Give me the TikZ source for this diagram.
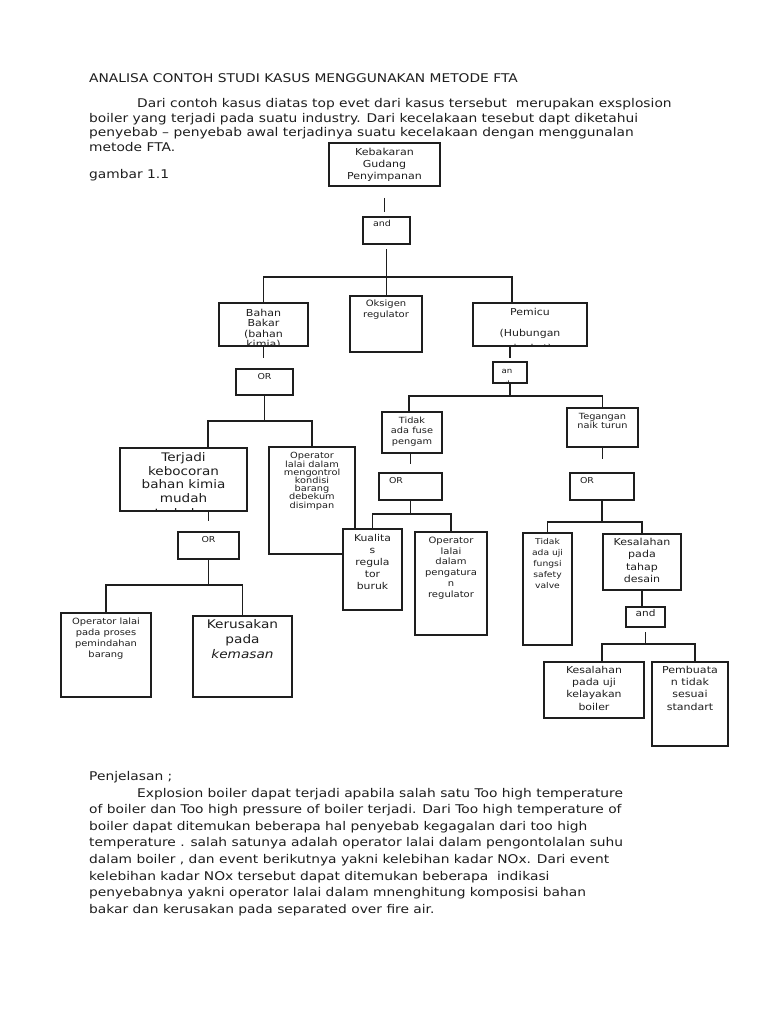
\documentclass[tikz,border=0pt]{standalone}
\usepackage{fontspec}
\setmainfont{DejaVu Sans}[FakeStretch=1.15]
\definecolor{ink}{HTML}{1E1E1E}
\newcommand{\huruf}[2]{\fontsize{#1pt}{#2pt}\selectfont\lineskiplimit=-5pt\relax}
\tikzset{
  wire/.style={draw=ink, line width=1.1pt},
  event/.style={draw=ink, fill=white, line width=1.1pt, inner sep=0pt, outer sep=0pt, anchor=north west},
  isi/.style={text=ink, align=center, inner sep=0pt, minimum width=0pt, minimum height=0pt, anchor=north},
  para/.style={text=ink, inner sep=0pt, anchor=base west, font=\huruf{12}{14.5}}
}
\begin{document}
\begin{tikzpicture}[x=1pt, y=-1pt]
  \fill[white] (0,0) rectangle (768,1024);
  \useasboundingbox (0,0) rectangle (768,1024);

  % teks pembuka
  \node[para] (judul) at (89,82.5) {ANALISA CONTOH STUDI KASUS MENGGUNAKAN METODE FTA};
  \node[para] (p1) at (137,108) {Dari contoh kasus diatas top evet dari kasus tersebut\ \ merupakan exsplosion};
  \node[para] (p2) at (89,122.5) {boiler yang terjadi pada suatu industry. Dari kecelakaan tesebut dapt diketahui};
  \node[para] (p3) at (89,137) {penyebab – penyebab awal terjadinya suatu kecelakaan dengan menggunalan};
  \node[para] (p4) at (89,151.5) {metode FTA.};
  \node[para] (gambar) at (89,179) {gambar 1.1};

  % pohon kegagalan
  \node[event, minimum width=111pt, minimum height=43pt,
    path picture={\node[isi, font=\huruf{9.6}{12}] at ([yshift=-5pt]path picture bounding box.north) {Kebakaran\\Gudang\\Penyimpanan};}]
    (kebakaran) at (329,143) {};
  \node[event, minimum width=47pt, minimum height=27pt,
    path picture={\node[isi, font=\huruf{8.3}{10}] at ([xshift=-4.5pt, yshift=-3pt]path picture bounding box.north) {and};}]
    (and1) at (363,217) {};
  \node[event, minimum width=89pt, minimum height=43pt,
    path picture={\node[isi, font=\huruf{9.6}{10.5}] at ([yshift=-6pt]path picture bounding box.north) {Bahan\\Bakar\\(bahan\\kimia)};}]
    (bahan) at (219,303) {};
  \node[event, minimum width=72pt, minimum height=56pt,
    path picture={\node[isi, font=\huruf{8.7}{11}] at ([yshift=-3.5pt]path picture bounding box.north) {Oksigen\\regulator};}]
    (oksigen) at (350,296) {};
  \node[event, minimum width=114pt, minimum height=43pt,
    path picture={\node[isi, font=\huruf{9.5}{10.5}] at ([yshift=-5pt]path picture bounding box.north) {Pemicu\\[10.5pt](Hubungan\\[4.5pt]singkat)};}]
    (pemicu) at (473,303) {};

  % cabang kiri
  \node[event, minimum width=57pt, minimum height=26pt,
    path picture={\node[isi, font=\huruf{8.2}{10}] at ([yshift=-4pt]path picture bounding box.north) {OR};}]
    (or1) at (236,369) {};
  \node[event, minimum width=127pt, minimum height=63pt,
    path picture={\node[isi, font=\huruf{11.8}{13.4}] at ([yshift=-5pt]path picture bounding box.north) {Terjadi\\kebocoran\\bahan kimia\\mudah\\[2pt]terbakar};}]
    (terjadi) at (120,448) {};
  \node[event, minimum width=86pt, minimum height=107pt,
    path picture={\node[isi, font=\huruf{8.5}{8.2}] at ([yshift=-5.5pt]path picture bounding box.north) {Operator\\lalai dalam\\mengontrol\\kondisi\\barang\\debekum\\disimpan};}]
    (operator1) at (269,447) {};
  \node[event, minimum width=61pt, minimum height=27pt,
    path picture={\node[isi, font=\huruf{8.2}{10}] at ([yshift=-4pt]path picture bounding box.north) {OR};}]
    (orbawah) at (178,532) {};
  \node[event, minimum width=90pt, minimum height=84pt,
    path picture={\node[isi, font=\huruf{8.6}{11}] at ([yshift=-4.6pt]path picture bounding box.north) {Operator lalai\\pada proses\\pemindahan\\barang};}]
    (operator3) at (61,613) {};
  \node[event, minimum width=99pt, minimum height=81pt,
    path picture={\node[isi, font=\huruf{11.9}{14.8}] at ([yshift=-3.5pt]path picture bounding box.north) {Kerusakan\\pada\\\textit{kemasan}};}]
    (kerusakan) at (193,616) {};

  % cabang kanan
  \node[event, minimum width=34pt, minimum height=21pt,
    path picture={\node[isi, font=\huruf{7.5}{10.6}] at ([xshift=-3pt, yshift=-7pt]path picture bounding box.north) {an\\[3pt]d};}]
    (an) at (493,362) {};
  \node[event, minimum width=60pt, minimum height=41pt,
    path picture={\node[isi, font=\huruf{8.5}{10.8}] at ([yshift=-4.6pt]path picture bounding box.north) {Tidak\\ada fuse\\pengam};}]
    (tidakfuse) at (382,412) {};
  \node[event, minimum width=71pt, minimum height=39pt,
    path picture={\node[isi, font=\huruf{8.5}{9.5}] at ([yshift=-5pt]path picture bounding box.north) {Tegangan\\naik turun};}]
    (tegangan) at (567,408) {};
  \node[event, minimum width=63pt, minimum height=27pt,
    path picture={\node[isi, anchor=north west, font=\huruf{8.2}{10}] at ([xshift=10pt, yshift=-4pt]path picture bounding box.north west) {OR};}]
    (or2) at (379,473) {};
  \node[event, minimum width=64pt, minimum height=27pt,
    path picture={\node[isi, anchor=north west, font=\huruf{8.2}{10}] at ([xshift=10pt, yshift=-4pt]path picture bounding box.north west) {OR};}]
    (or3) at (570,473) {};
  \node[event, minimum width=59pt, minimum height=81pt,
    path picture={\node[isi, font=\huruf{9.4}{12}] at ([yshift=-5.8pt]path picture bounding box.north) {Kualita\\s\\regula\\tor\\buruk};}]
    (kualitas) at (343,529) {};
  \node[event, minimum width=72pt, minimum height=103pt,
    path picture={\node[isi, font=\huruf{8.7}{10.8}] at ([yshift=-4.8pt]path picture bounding box.north) {Operator\\lalai\\dalam\\pengatura\\n\\regulator};}]
    (operator2) at (415,532) {};
  \node[event, minimum width=49pt, minimum height=112pt,
    path picture={\node[isi, font=\huruf{8}{11}] at ([yshift=-5pt]path picture bounding box.north) {Tidak\\ada uji\\fungsi\\safety\\valve};}]
    (tidakuji) at (523,533) {};
  \node[event, minimum width=78pt, minimum height=56pt,
    path picture={\node[isi, font=\huruf{9.6}{12.2}] at ([yshift=-4.5pt]path picture bounding box.north) {Kesalahan\\pada\\tahap\\desain};}]
    (kesdesain) at (603,534) {};
  \node[event, minimum width=39pt, minimum height=20pt,
    path picture={\node[isi, font=\huruf{9.2}{11}] at ([yshift=-2.5pt]path picture bounding box.north) {and};}]
    (and2) at (626,607) {};
  \node[event, minimum width=100pt, minimum height=56pt,
    path picture={\node[isi, font=\huruf{9.5}{12.2}] at ([yshift=-4.2pt]path picture bounding box.north) {Kesalahan\\pada uji\\kelayakan\\boiler};}]
    (kesuji) at (544,662) {};
  \node[event, minimum width=76pt, minimum height=84pt,
    path picture={\node[isi, font=\huruf{9.6}{12.2}] at ([yshift=-4.2pt]path picture bounding box.north) {Pembuata\\n tidak\\sesuai\\standart};}]
    (pembuatan) at (652,662) {};

  % titik cabang
  \coordinate (j1) at (385,277);
  \coordinate (j2) at (263,421);
  \coordinate (j3) at (208,585);
  \coordinate (j4) at (508,396);
  \coordinate (j5) at (409,514);
  \coordinate (j6) at (602,522);
  \coordinate (j7) at (644,644);

  % garis penghubung
  \draw[wire, shorten <=12pt, shorten >=5pt] (kebakaran.south) -- (kebakaran.south |- and1.north);
  \draw[wire, shorten <=5pt] (and1.south) -- (and1.south |- oksigen.north);
  \draw[wire] (bahan.north) |- (j1) -| ([xshift=-18pt]pemicu.north);
  \draw[wire, shorten >=11pt] (bahan.south) -- (bahan.south |- or1.north);
  \draw[wire] (or1.south) -- (or1.south |- j2);
  \draw[wire] ([xshift=24.5pt]terjadi.north) |- (j2) -| (operator1.north);
  \draw[wire, shorten >=11pt] (orbawah.north |- terjadi.south) -- (orbawah.north);
  \draw[wire] (orbawah.south) -- (orbawah.south |- j3);
  \draw[wire] (operator3.north) |- (j3) -| (kerusakan.north);
  \draw[wire, shorten >=4pt] (an.north |- pemicu.south) -- (an.north);
  \draw[wire] (an.south) -- (an.south |- j4);
  \draw[wire] ([xshift=-3pt]tidakfuse.north) |- (j4) -| (tegangan.north);
  \draw[wire, shorten >=9pt] (or2.north |- tidakfuse.south) -- (or2.north);
  \draw[wire] (or2.south) -- (or2.south |- j5);
  \draw[wire] (kualitas.north) |- (j5) -| (operator2.north);
  \draw[wire, shorten >=14pt] (tegangan.south) -- (tegangan.south |- or3.north);
  \draw[wire] (or3.south) -- (or3.south |- j6);
  \draw[wire] (tidakuji.north) |- (j6) -| (kesdesain.north);
  \draw[wire] (kesdesain.south) -- (kesdesain.south |- and2.north);
  \draw[wire, shorten <=5pt] (and2.south) -- (and2.south |- j7);
  \draw[wire] ([xshift=8pt]kesuji.north) |- (j7) -| ([xshift=5pt]pembuatan.north);

  % penjelasan
  \node[para] (penjelasan) at (89,780) {Penjelasan ;};
  \node[para] (q0) at (137,797) {Explosion boiler dapat terjadi apabila salah satu Too high temperature};
  \foreach \baris [count=\k] in {
      {of boiler dan Too high pressure of boiler terjadi. Dari Too high temperature of},
      {boiler dapat ditemukan beberapa hal penyebab kegagalan dari too high},
      {temperature . salah satunya adalah operator lalai dalam pengontolalan suhu},
      {dalam boiler , dan event berikutnya yakni kelebihan kadar NOx. Dari event},
      {kelebihan kadar NOx tersebut dapat ditemukan beberapa\ \ indikasi},
      {penyebabnya yakni operator lalai dalam mnenghitung komposisi bahan},
      {bakar dan kerusakan pada separated over fire air.}}
    \node[para] (q\k) at (89,{797+16.6*\k}) {\baris};
\end{tikzpicture}
\end{document}
